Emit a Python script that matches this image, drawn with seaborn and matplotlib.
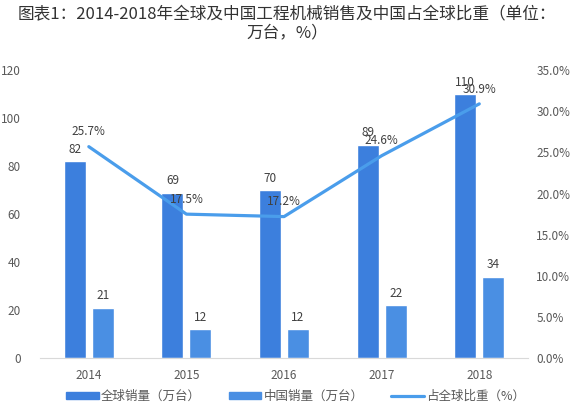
import numpy as np
import pandas as pd
import seaborn as sns
import matplotlib.pyplot as plt
from matplotlib.lines import Line2D
from matplotlib.patches import Patch

# data
years = ['2014', '2015', '2016', '2017', '2018']
global_sales = [82, 69, 70, 89, 110]
china_sales = [21, 12, 12, 22, 34]
china_share = [25.7, 17.5, 17.2, 24.6, 30.9]

s_global = '全球销量（万台）'
s_china = '中国销量（万台）'
s_share = '占全球比重（%）'

c_global = '#3C7FDD'
c_china = '#4A8FE3'
c_line = '#4A9DEB'
c_text = '#595959'

sns.set_style('white')
plt.rcParams['font.family'] = ['Noto Sans CJK SC', 'DejaVu Sans']

df = pd.DataFrame({
    'year': years * 2,
    'sales': global_sales + china_sales,
    'series': [s_global] * len(years) + [s_china] * len(years),
})
df_line = pd.DataFrame({'pos': np.arange(len(years)), 'share': china_share})

fig = plt.figure(figsize=(5.74, 4.15), dpi=100)
ax = fig.add_axes([0.0697, 0.137, 0.8503, 0.694])

sns.barplot(data=df, x='year', y='sales', hue='series', order=years,
            palette=[c_global, c_china], width=0.572, gap=0.21,
            saturation=1, legend=False, ax=ax)

for cont in ax.containers:
    ax.bar_label(cont, padding=4, fontsize=8.5, color='#404040')

ax.set_ylim(0, 120)
ax.set_yticks(range(0, 121, 20))
ax.set_xlim(-0.5, len(years) - 0.5)
ax.set_xlabel('')
ax.set_ylabel('')

ax2 = ax.twinx()
sns.lineplot(data=df_line, x='pos', y='share', color=c_line, linewidth=2.3, ax=ax2)
ax2.set_ylim(0, 35)
ax2.set_yticks(np.arange(0, 35.1, 5))
ax2.set_yticklabels([f'{v:.1f}%' for v in np.arange(0, 35.1, 5)])
ax2.set_ylabel('')
ax2.set_xlim(-0.5, len(years) - 0.5)

for i, v in enumerate(china_share):
    ax2.annotate(f'{v}%', (i, v), xytext=(0, 6), textcoords='offset points',
                 ha='center', va='bottom', fontsize=8.5, color='#404040')

for a in (ax, ax2):
    for sp in a.spines.values():
        sp.set_visible(False)
    a.tick_params(length=0, labelsize=8.5, labelcolor=c_text)
ax.spines['bottom'].set_visible(True)
ax.spines['bottom'].set_color('#D9D9D9')
ax.tick_params(axis='y', pad=14)
ax2.tick_params(axis='y', pad=6)
ax.tick_params(axis='x', pad=8)

fig.suptitle('图表1：2014-2018年全球及中国工程机械销售及中国占全球比重（单位：\n万台，%）',
             x=0.5, y=0.985, fontsize=12, color='#333333', linespacing=1.05)

handles = [
    Patch(color=c_global, label=s_global),
    Patch(color=c_china, label=s_china),
    Line2D([0], [0], color=c_line, linewidth=2.3, label=s_share),
]
fig.legend(handles=handles, loc='center', bbox_to_anchor=(0.515, 0.045), ncol=3,
           frameon=False, fontsize=9, handlelength=2.6, handleheight=0.5,
           columnspacing=2.2, handletextpad=0.2, labelcolor=c_text)

fig.savefig('out.png', dpi=100)
